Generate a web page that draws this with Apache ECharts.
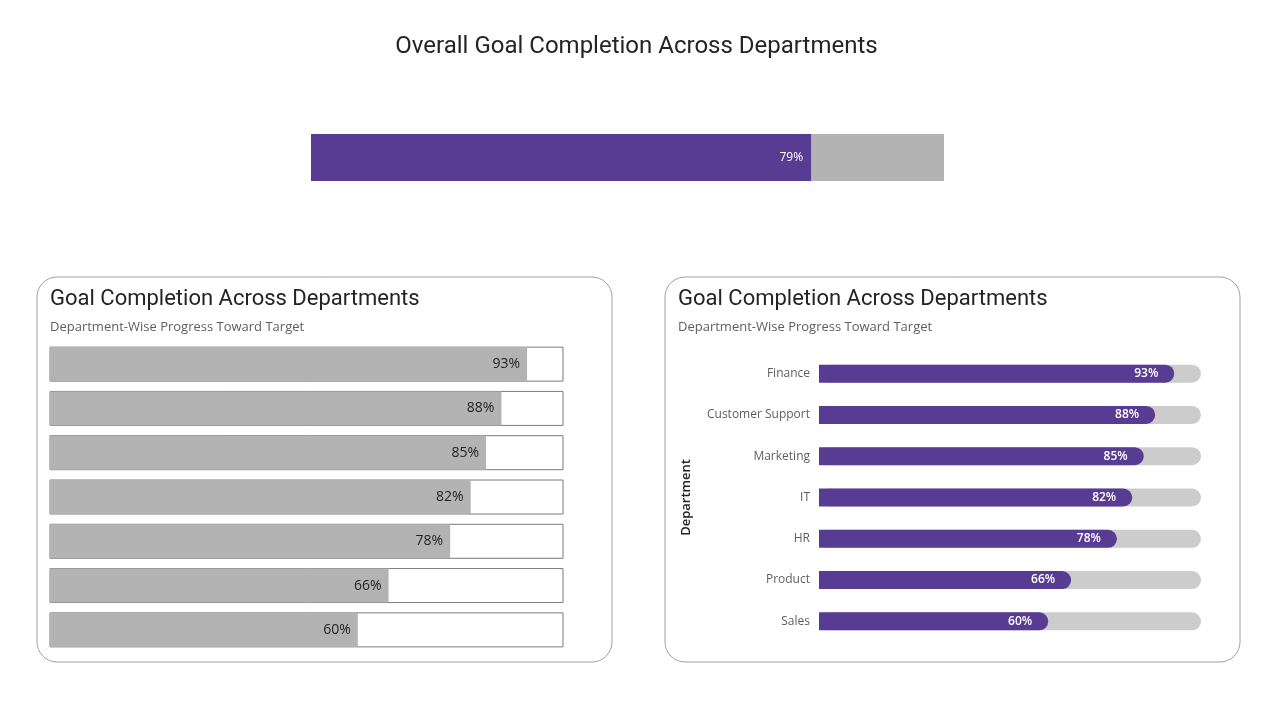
<!DOCTYPE html>
<html>
<head>
<meta charset="utf-8">
<script src="https://cdn.jsdelivr.net/npm/echarts@6/dist/echarts.min.js"></script>
<style>
  html, body { margin: 0; padding: 0; background: #fff; }
  #chart { width: 1273px; height: 701px; }
</style>
</head>
<body>
<div id="chart"></div>
<script>
// 数据
var overallValue = [79];
var departments = ['Finance', 'Customer Support', 'Marketing', 'IT', 'HR', 'Product', 'Sales'];
var completion = [93, 88, 85, 82, 78, 66, 60];

var purple = '#583b92';
var titleFont = 'Roboto';
var bodyFont = '"Open Sans", "Noto Sans", sans-serif';

var myChart = echarts.init(document.getElementById('chart'));

myChart.setOption({
  animation: false,
  title: [
    {
      text: 'Overall Goal Completion Across Departments',
      left: 'center',
      top: 30,
      textStyle: { fontFamily: titleFont, fontSize: 24, fontWeight: 'normal', color: '#252423' }
    },
    {
      text: 'Goal Completion Across Departments',
      left: 45,
      top: 283,
      textStyle: { fontFamily: titleFont, fontSize: 22, fontWeight: 'normal', color: '#252423' }
    },
    {
      text: 'Department-Wise Progress Toward Target',
      left: 45,
      top: 316,
      textStyle: { fontFamily: bodyFont, fontSize: 13, fontWeight: 'normal', color: '#605e5c' }
    },
    {
      text: 'Goal Completion Across Departments',
      left: 673,
      top: 283,
      textStyle: { fontFamily: titleFont, fontSize: 22, fontWeight: 'normal', color: '#252423' }
    },
    {
      text: 'Department-Wise Progress Toward Target',
      left: 673,
      top: 316,
      textStyle: { fontFamily: bodyFont, fontSize: 13, fontWeight: 'normal', color: '#605e5c' }
    }
  ],
  // 面板边框
  graphic: [
    {
      type: 'rect', z: -1,
      shape: { x: 37, y: 277, width: 575, height: 385, r: 20 },
      style: { fill: 'none', stroke: '#a0a0a0', lineWidth: 1 }
    },
    {
      type: 'rect', z: -1,
      shape: { x: 665, y: 277, width: 575, height: 385, r: 20 },
      style: { fill: 'none', stroke: '#a0a0a0', lineWidth: 1 }
    }
  ],
  grid: [
    { left: 311, top: 134, width: 633, height: 47 },
    { left: 50, top: 342, width: 513, height: 310 },
    { left: 819, top: 353, width: 382, height: 289 }
  ],
  xAxis: [
    { gridIndex: 0, type: 'value', min: 0, max: 100, show: false },
    { gridIndex: 1, type: 'value', min: 0, max: 100, show: false },
    { gridIndex: 2, type: 'value', min: 0, max: 100, show: false }
  ],
  yAxis: [
    { gridIndex: 0, type: 'category', data: ['Overall'], show: false },
    { gridIndex: 1, type: 'category', data: departments, inverse: true, show: false },
    {
      gridIndex: 2,
      type: 'category',
      data: departments,
      inverse: true,
      axisLine: { show: false },
      axisTick: { show: false },
      axisLabel: { fontFamily: bodyFont, fontSize: 12, color: '#605e5c', margin: 9 },
      name: 'Department',
      nameLocation: 'middle',
      nameRotate: 90,
      nameGap: 126,
      nameTextStyle: { fontFamily: bodyFont, fontSize: 13, fontWeight: 600, color: '#252423' }
    }
  ],
  series: [
    {
      type: 'bar',
      xAxisIndex: 0,
      yAxisIndex: 0,
      data: overallValue,
      barWidth: 47,
      itemStyle: { color: purple },
      showBackground: true,
      backgroundStyle: { color: '#b3b3b3' },
      label: {
        show: true,
        position: 'insideRight',
        distance: 8,
        formatter: '{c}%',
        color: '#fff',
        fontFamily: bodyFont,
        fontSize: 12
      }
    },
    {
      type: 'bar',
      xAxisIndex: 1,
      yAxisIndex: 1,
      data: completion,
      barWidth: 34,
      itemStyle: { color: '#b3b3b3' },
      showBackground: true,
      backgroundStyle: { color: '#fff', borderColor: '#7a7a7a', borderWidth: 1 },
      label: {
        show: true,
        position: 'insideRight',
        distance: 7,
        formatter: '{c}%',
        color: '#252423',
        fontFamily: bodyFont,
        fontSize: 14
      }
    },
    {
      type: 'bar',
      xAxisIndex: 2,
      yAxisIndex: 2,
      data: completion,
      barWidth: 18,
      itemStyle: { color: purple, borderRadius: [0, 9, 9, 0] },
      showBackground: true,
      backgroundStyle: { color: '#cccccc', borderRadius: 9 },
      label: {
        show: true,
        position: 'insideRight',
        distance: 16,
        formatter: '{c}%',
        color: '#fff',
        fontFamily: bodyFont,
        fontSize: 12,
        fontWeight: 600
      }
    }
  ]
});
</script>
</body>
</html>
